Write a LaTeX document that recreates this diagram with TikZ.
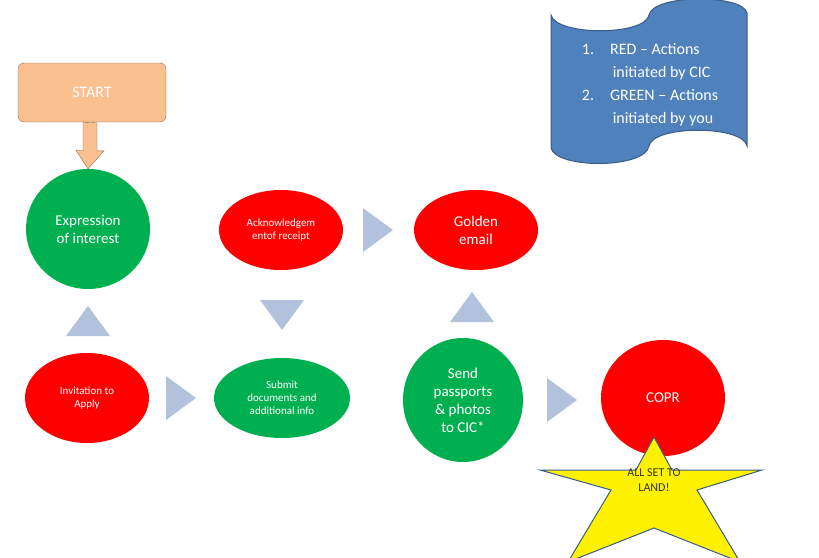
\documentclass[tikz,border=0pt]{standalone}
\usepackage{fontspec}
\setmainfont{Carlito}
\usetikzlibrary{shapes.geometric}
\definecolor{cicred}{RGB}{255,0,0}
\definecolor{cicgreen}{RGB}{0,176,80}
\definecolor{arrowblue}{RGB}{179,194,220}
\definecolor{startfill}{RGB}{250,192,144}
\definecolor{startline}{RGB}{150,110,80}
\definecolor{bannerfill}{RGB}{79,129,189}
\definecolor{bannerline}{RGB}{56,93,138}
\tikzset{
  stage/.style = {ellipse,text=white,align=center,inner sep=0pt},
  red stage/.style = {stage,fill=cicred},
  green stage/.style = {stage,fill=cicgreen},
  tri/.pic = {\fill[arrowblue] (-15,-22) -- (15,0) -- (-15,22) -- cycle;}
}
\begin{document}
\begin{tikzpicture}[x=1pt,y=-1pt]
  \useasboundingbox (0,0) rectangle (819,557);
  % start
  \node[draw=startline,fill=startfill,rounded corners=6pt,minimum width=148pt,
        minimum height=59pt,text=white,font=\fontsize{16}{18}\selectfont]
        (start) at (92,92.5) {START};
  \node[green stage,minimum width=124pt,minimum height=120pt,font=\fontsize{15}{18}\selectfont]
        (interest) at (88,229) {Expression\\of interest};
  \draw[draw=startline,fill=startfill] (start.south) ++(-9,0) -- ++(0,28) -- ++(-7,0)
        -- (interest.north) -- ++(16,-18) -- ++(-7,0) -- ++(0,-28) -- cycle;
  % stages
  \node[red stage,minimum width=124pt,minimum height=90pt,font=\fontsize{11}{13}\selectfont]
        (invite) at (87,398) {Invitation to\\Apply};
  \node[green stage,minimum width=136pt,minimum height=80pt,font=\fontsize{11}{13}\selectfont]
        (submit) at (282,398) {Submit\\documents and\\additional info};
  \node[red stage,minimum width=124pt,minimum height=80pt,font=\fontsize{11}{13}\selectfont]
        (ack) at (281,230) {Acknowledgem\\entof receipt};
  \node[red stage,minimum width=124pt,minimum height=80pt,font=\fontsize{15}{18}\selectfont]
        (golden) at (476,230) {Golden\\email};
  \node[green stage,minimum width=120pt,minimum height=124pt,font=\fontsize{15}{18}\selectfont]
        (passports) at (463,400) {Send\\passports\\\& photos\\to CIC*};
  \node[red stage,minimum width=124pt,minimum height=116pt,font=\fontsize{15}{18}\selectfont]
        (copr) at (663,398) {COPR};
  % arrows between stages
  \pic[rotate=90] at (88,321) {tri};
  \pic at (181,398) {tri};
  \pic[rotate=-90] at (282,315) {tri};
  \pic at (378,230) {tri};
  \pic[rotate=90] at (472,307) {tri};
  \pic at (562,400) {tri};
  % star
  \draw[draw=bannerline,fill=yellow,line width=1pt] (654,437) -- (672,470) -- (762,470)
        -- (697,490) -- (740,562) -- (654,528) -- (568,562) -- (611,490) -- (540,470)
        -- (636,470) -- cycle;
  \node[align=center,font=\fontsize{12}{15}\selectfont,text=black!80] (land) at (654,480)
        {ALL SET TO\\LAND!};
  % legend banner
  \draw[draw=bannerline,fill=bannerfill,line width=1pt] (551,15)
        .. controls (556,36) and (645,36) .. (649,15)
        .. controls (653,-6) and (743,-6) .. (747,13) -- (747,146)
        .. controls (743,125) and (653,125) .. (649,146)
        .. controls (645,169) and (556,169) .. (551,148) -- cycle;
  \node[text=white,align=left,font=\fontsize{16}{23}\selectfont] (legend) at (650,85)
        {1.\quad RED -- Actions\\\hphantom{1.\quad}\,initiated by CIC\\
         2.\quad GREEN -- Actions\\\hphantom{2.\quad}\,initiated by you};
\end{tikzpicture}
\end{document}
